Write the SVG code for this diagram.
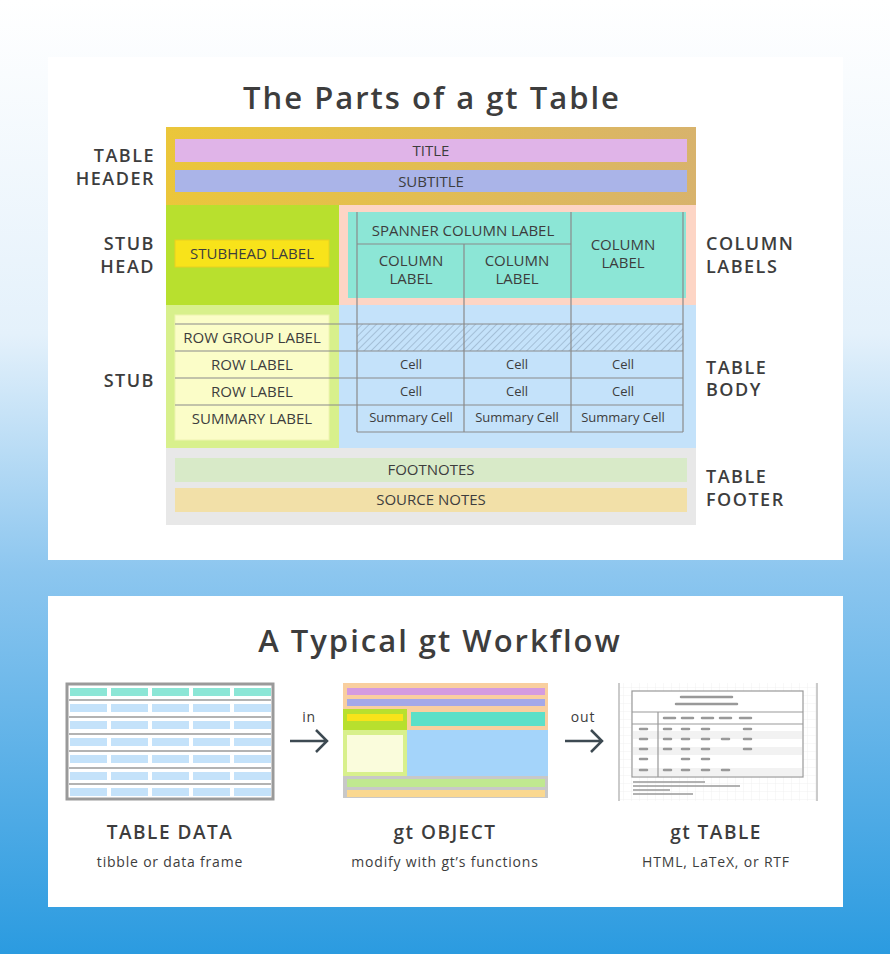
<svg xmlns="http://www.w3.org/2000/svg" width="890" height="954" viewBox="0 0 890 954">
<defs>
<linearGradient id="bg" x1="0" y1="0" x2="0" y2="1"><stop offset="0" stop-color="#ffffff"/><stop offset="0.35" stop-color="#e4f1fb"/><stop offset="0.6" stop-color="#8cc6ef"/><stop offset="1" stop-color="#2b9be0"/></linearGradient>
<linearGradient id="gold" x1="0" y1="0" x2="1" y2="0"><stop offset="0" stop-color="#ebc63a"/><stop offset="1" stop-color="#d8b36c"/></linearGradient>
<pattern id="hatch" width="5" height="5" patternUnits="userSpaceOnUse" patternTransform="rotate(45)"><rect width="5" height="5" fill="#c4e2fa"/><line x1="0" y1="0" x2="0" y2="5" stroke="#8fa8c0" stroke-width="1.2"/></pattern>
<pattern id="grid" width="8" height="8" patternUnits="userSpaceOnUse"><rect width="8" height="8" fill="#fff"/><path d="M8 0V8H0" fill="none" stroke="#eeeeee" stroke-width="0.8"/></pattern>
</defs>
<style>
text{font-family:"Open Sans","Liberation Sans",sans-serif;fill:#3d3d3d;text-anchor:middle}
.h1{font-size:31px;font-weight:600;letter-spacing:2px}
.side{font-size:18px;font-weight:600;letter-spacing:1.5px}
.l{text-anchor:end}.r{text-anchor:start}
.lab{font-size:15px}
.cell{font-size:13px}
.grid{stroke:#8a8a8a;stroke-width:1.2;fill:none}
.cap{font-size:19px;font-weight:600;letter-spacing:1.5px}
.sub{font-size:14px;letter-spacing:0.8px}
</style>
<rect width="890" height="954" fill="url(#bg)"/>
<rect x="48" y="57" width="795" height="503" fill="#fff"/>
<rect x="48" y="596" width="795" height="311" fill="#fff"/>
<text class="h1" x="432" y="109">The Parts of a gt Table</text>

<g id="side-labels">
<text class="side l" x="155" y="162">TABLE</text><text class="side l" x="155" y="185">HEADER</text>
<text class="side l" x="155" y="250">STUB</text><text class="side l" x="155" y="273">HEAD</text>
<text class="side l" x="155" y="387">STUB</text>
<text class="side r" x="706" y="250">COLUMN</text><text class="side r" x="706" y="273">LABELS</text>
<text class="side r" x="706" y="374">TABLE</text><text class="side r" x="706" y="396">BODY</text>
<text class="side r" x="706" y="483">TABLE</text><text class="side r" x="706" y="506">FOOTER</text>
</g>

<g id="table-header">
<rect x="166" y="127" width="530" height="78" fill="url(#gold)"/>
<rect x="175" y="139" width="512" height="23" fill="#e0b4e8"/>
<text class="lab" x="431" y="156">TITLE</text>
<rect x="175" y="170" width="512" height="22" fill="#aab4e8"/>
<text class="lab" x="431" y="187">SUBTITLE</text>
</g>
<g id="stub-head">
<rect x="166" y="205" width="173" height="100" fill="#b8e02e"/>
<rect x="175" y="240" width="154" height="27" fill="#f8e31a" stroke="#e8d020"/>
<text class="lab" x="252" y="259">STUBHEAD LABEL</text>
</g>
<g id="column-labels">
<rect x="339" y="205" width="357" height="100" fill="#fdd5c5"/>
<rect x="348" y="212" width="338" height="86" fill="#8ce6d6"/>
<text class="lab" x="463" y="236">SPANNER COLUMN LABEL</text>
<text class="lab" x="411" y="266">COLUMN</text><text class="lab" x="411" y="284">LABEL</text>
<text class="lab" x="517" y="266">COLUMN</text><text class="lab" x="517" y="284">LABEL</text>
<text class="lab" x="623" y="250">COLUMN</text><text class="lab" x="623" y="268">LABEL</text>
</g>
<g id="stub">
<rect x="166" y="305" width="173" height="143" fill="#d8f08c"/>
<rect x="175" y="315" width="154" height="125" fill="#fbfdc8" stroke="#eef3b0"/>
<text class="lab" x="252" y="343">ROW GROUP LABEL</text>
<text class="lab" x="252" y="370">ROW LABEL</text>
<text class="lab" x="252" y="397">ROW LABEL</text>
<text class="lab" x="252" y="424">SUMMARY LABEL</text>
</g>
<g id="table-body">
<rect x="339" y="305" width="357" height="143" fill="#c4e2fa"/>
<rect x="357" y="324" width="326" height="27" fill="url(#hatch)"/>
<text class="cell" x="411" y="369">Cell</text><text class="cell" x="517" y="369">Cell</text><text class="cell" x="623" y="369">Cell</text>
<text class="cell" x="411" y="396">Cell</text><text class="cell" x="517" y="396">Cell</text><text class="cell" x="623" y="396">Cell</text>
<text class="cell" x="411" y="422">Summary Cell</text><text class="cell" x="517" y="422">Summary Cell</text><text class="cell" x="623" y="422">Summary Cell</text>
</g>
<g id="grid-lines">
<path class="grid" d="M357 212V432M464 244V432M571 212V432M683 212V432M357 244H571M175 324H683M175 351H683M175 378H683M175 405H683M357 432H683"/>
</g>
<g id="table-footer">
<rect x="166" y="448" width="530" height="77" fill="#e8e8e8"/>
<rect x="175" y="458" width="512" height="24" fill="#d8eac8"/>
<text class="lab" x="431" y="475">FOOTNOTES</text>
<rect x="175" y="488" width="512" height="24" fill="#f2e0a8"/>
<text class="lab" x="431" y="505">SOURCE NOTES</text>
</g>

<text class="h1" x="440" y="652">A Typical gt Workflow</text>

<g id="table-data">
<rect x="67" y="684" width="206" height="115" fill="#fff" stroke="#9a9a9a" stroke-width="3"/>
<g fill="#8ce6d6">
<rect x="70" y="688" width="37" height="8"/><rect x="111" y="688" width="37" height="8"/><rect x="152" y="688" width="37" height="8"/><rect x="193" y="688" width="37" height="8"/><rect x="234" y="688" width="37" height="8"/>
</g>
<g fill="#c4e2fa">
<rect x="70" y="704" width="37" height="8"/><rect x="111" y="704" width="37" height="8"/><rect x="152" y="704" width="37" height="8"/><rect x="193" y="704" width="37" height="8"/><rect x="234" y="704" width="37" height="8"/>
<rect x="70" y="721" width="37" height="8"/><rect x="111" y="721" width="37" height="8"/><rect x="152" y="721" width="37" height="8"/><rect x="193" y="721" width="37" height="8"/><rect x="234" y="721" width="37" height="8"/>
<rect x="70" y="738" width="37" height="8"/><rect x="111" y="738" width="37" height="8"/><rect x="152" y="738" width="37" height="8"/><rect x="193" y="738" width="37" height="8"/><rect x="234" y="738" width="37" height="8"/>
<rect x="70" y="755" width="37" height="8"/><rect x="111" y="755" width="37" height="8"/><rect x="152" y="755" width="37" height="8"/><rect x="193" y="755" width="37" height="8"/><rect x="234" y="755" width="37" height="8"/>
<rect x="70" y="772" width="37" height="8"/><rect x="111" y="772" width="37" height="8"/><rect x="152" y="772" width="37" height="8"/><rect x="193" y="772" width="37" height="8"/><rect x="234" y="772" width="37" height="8"/>
<rect x="70" y="788" width="37" height="8"/><rect x="111" y="788" width="37" height="8"/><rect x="152" y="788" width="37" height="8"/><rect x="193" y="788" width="37" height="8"/><rect x="234" y="788" width="37" height="8"/>
</g>
<path d="M69 700H271M69 717H271M69 734H271M69 751H271M69 768H271M69 784H271" stroke="#9a9a9a" stroke-width="1.5"/>
<text class="cap" x="170" y="839">TABLE DATA</text>
<text class="sub" x="170" y="867">tibble or data frame</text>
</g>

<g id="connectors" fill="none" stroke="#3d4a52" stroke-width="2.5">
<path d="M290 741H326M316 730L327 741L316 752"/>
<path d="M565 741H601M591 730L602 741L591 752"/>
</g>
<text class="sub" x="309" y="722">in</text>
<text class="sub" x="583" y="722">out</text>

<g id="gt-object">
<rect x="343" y="683" width="205" height="47" fill="#f9cf9f"/>
<rect x="347" y="688" width="198" height="7" fill="#d49be0"/>
<rect x="347" y="699" width="198" height="7" fill="#a4a8e8"/>
<rect x="343" y="709" width="64" height="21" fill="#b8e02e"/>
<rect x="347" y="714" width="56" height="7" fill="#f8e31a"/>
<rect x="411" y="712" width="134" height="14" fill="#5ce0c8"/>
<rect x="343" y="730" width="64" height="46" fill="#d8f08c"/>
<rect x="347" y="735" width="56" height="37" fill="#fafcdc"/>
<rect x="407" y="730" width="141" height="46" fill="#a4d4fa"/>
<rect x="343" y="776" width="205" height="22" fill="#c8c8c8"/>
<rect x="347" y="779" width="198" height="8" fill="#c0e890"/>
<rect x="347" y="790" width="198" height="7" fill="#fad890"/>
<text class="cap" x="445" y="839">gt OBJECT</text>
<text class="sub" x="445" y="867">modify with gt’s functions</text>
</g>

<g id="gt-table">
<rect x="619" y="683" width="198" height="118" fill="url(#grid)"/>
<path d="M619 683V801M817 683V801" stroke="#bbb" stroke-width="1.5"/>
<rect x="632" y="691" width="171" height="86" fill="#fff" stroke="#999" stroke-width="1.2"/>
<rect x="633" y="747" width="169" height="8" fill="#f2f2f2"/>
<rect x="633" y="768" width="169" height="8" fill="#f2f2f2"/>
<rect x="633" y="731" width="169" height="8" fill="#f2f2f2"/>
<path d="M632 712H803M632 724H803M658 712V777" stroke="#999" stroke-width="1.2"/>
<g stroke="#999" stroke-width="2.5" stroke-linecap="round">
<path d="M681 697H732M676 704H737"/>
<path d="M664 718H675M682 718H693M702 718H713M720 718H731M740 718H751"/>
<path d="M640 729H647M664 729H671M682 729H689M702 729H709M744 729H751"/>
<path d="M640 739H647M664 739H671M682 739H689M702 739H709M722 739H729M744 739H751"/>
<path d="M640 749H647M664 749H671M682 749H689M702 749H709M744 749H751"/>
<path d="M640 759H647M682 759H689M702 759H709"/>
<path d="M640 770H647M664 770H671M682 770H689M702 770H709M722 770H729"/>
</g>
<g stroke="#999" stroke-width="1.5">
<path d="M633 782H705M633 786H740M633 790H670M633 794H693"/>
</g>
<text class="cap" x="716" y="839">gt TABLE</text>
<text class="sub" x="716" y="867">HTML, LaTeX, or RTF</text>
</g>
</svg>
